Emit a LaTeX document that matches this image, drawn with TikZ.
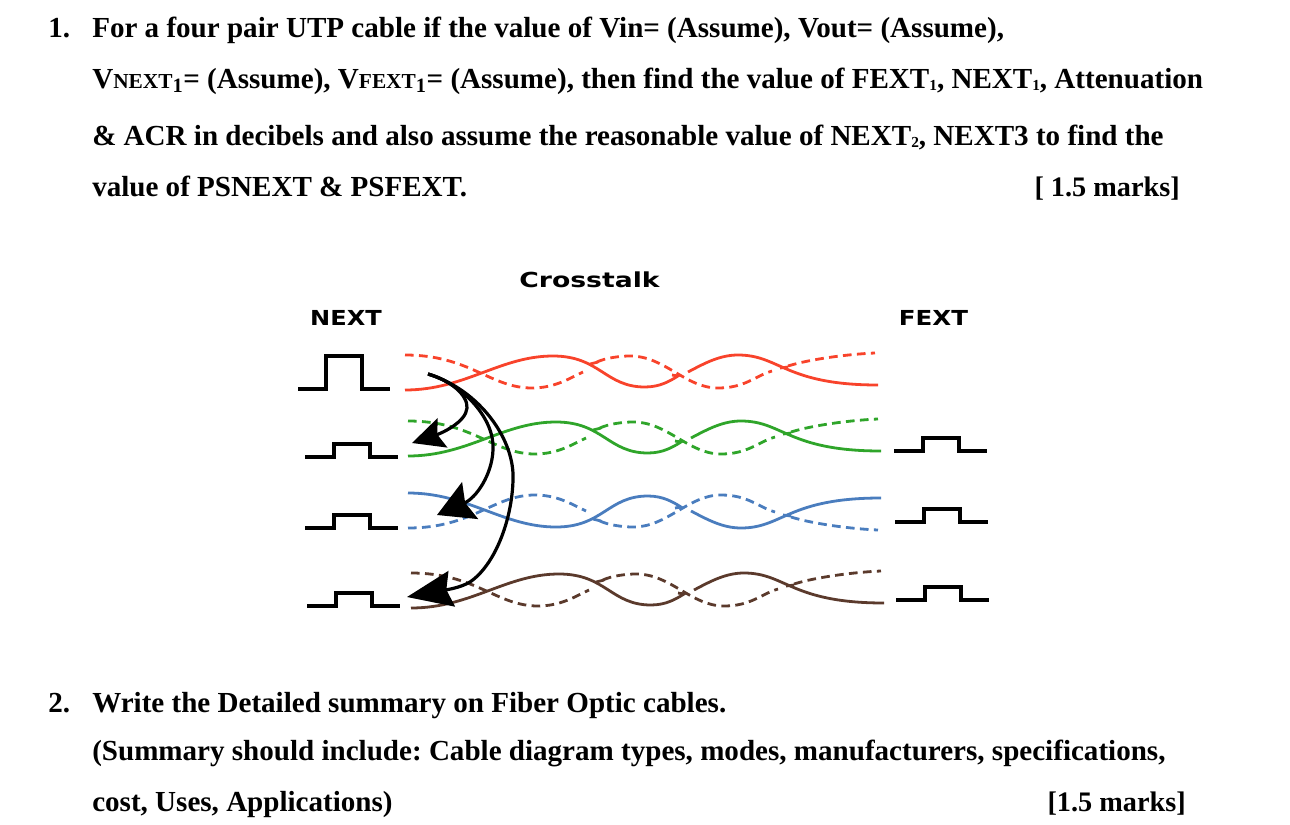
\documentclass[tikz,border=0pt]{standalone}
\usepackage{fontspec}
\setmainfont{Liberation Serif}
\newfontfamily\labelfont{DejaVu Sans}
\usetikzlibrary{arrows.meta}

\definecolor{wirered}{HTML}{F8432B}
\definecolor{wiregreen}{HTML}{2FA52A}
\definecolor{wireblue}{HTML}{4A7DBE}
\definecolor{wirebrown}{HTML}{5B3A2C}

\newcommand{\smallcap}[1]{{\fontsize{16}{18}\selectfont #1}}
\newcommand{\lowfig}[1]{\raisebox{-2pt}{\fontsize{11.5}{12}\selectfont #1}}

\tikzset{
    textline/.style={anchor=base west, inner sep=0pt, font=\fontsize{21.8}{24}\selectfont\bfseries},
    textright/.style={inner sep=0pt, anchor=base east, font=\fontsize{21.2}{24}\selectfont\bfseries},
    picturelabel/.style={inner sep=0pt, font=\fontsize{15.5}{18}\selectfont\labelfont\bfseries, transform shape},
    pulseline/.style={draw=black, line width=2.4pt, line join=miter},
    solidwire/.style={line width=2.1pt},
    dashwire/.style={line width=2.1pt, dash pattern=on 6.5pt off 4pt},
    crossarrow/.style n args={2}{line width=2.4pt, -{Stealth[length=#1, width=#2, inset=4pt]}}
}

\begin{document}
\frenchspacing
\begin{tikzpicture}[x=0.75pt, y=-0.75pt]
        \useasboundingbox (0,0) rectangle (1290,825);

        \node[textline] (num1) at (48,37) {1.};
        \node[textline] (line1) at (92,37) {For a four pair UTP cable if the value of Vin= (Assume), Vout= (Assume),};
        \node[textline] (line2) at (92,88) {V\smallcap{NEXT}\textsubscript{1}= (Assume), V\smallcap{FEXT}\textsubscript{1}= (Assume), then find the value of FEXT\lowfig{1}, NEXT\lowfig{1}, Attenuation};
        \node[textline] (line3) at (92,145) {\& ACR in decibels and also assume the reasonable value of NEXT\lowfig{2}, NEXT3 to find the};
        \node[textline] (line4) at (92,196) {value of PSNEXT \& PSFEXT.};
        \node[textright] (marks1) at (1180,196) {[ 1.5 marks]};

        \node[textline] (num2) at (48,712) {2.};
        \node[textline] (line5) at (92,712) {Write the Detailed summary on Fiber Optic cables.};
        \node[textline] (line6) at (92,760) {(Summary should include: Cable diagram types, modes, manufacturers, specifications,};
        \node[textline] (line7) at (92,811) {cost, Uses, Applications)};
        \node[textright] (marks2) at (1186,811) {[1.5 marks]};

        \node[picturelabel, xscale=1.29] (crosstalk) at (589.5,280) {Crosstalk};
        \node[picturelabel, xscale=1.165] (next) at (346,318) {NEXT};
        \node[picturelabel, xscale=1.186] (fext) at (933.5,318) {FEXT};

        % pulses
        \draw[pulseline] (298,389) -- ++(28,0) -- ++(0,-33) -- ++(36,0) -- ++(0,33) -- ++(28,0);
        \foreach \px/\py in {305/457, 305/528, 307/606, 894/451, 895/522, 896/600}
            \draw[pulseline] (\px,\py) -- ++(29,0) -- ++(0,-13) -- ++(36,0) -- ++(0,13) -- ++(28,0);

        % pairs
        \foreach \col/\dx/\cy/\fl in {wirered/0/371/1, wiregreen/3/437/1, wireblue/3/512/-1, wirebrown/6/589/1} {
            \begin{scope}[shift={(\dx,\cy)}, yscale=\fl, draw=\col]
                \draw[solidwire] (405,19) .. controls (465,19) and (500,-15) .. (553,-15)
                    .. controls (600,-15) and (605,16) .. (645,16)
                    .. controls (660,16) and (670,10) .. (678,5) -- (672,4);
                \draw[solidwire] (688,1) .. controls (705,-8) and (720,-16) .. (738,-16)
                    .. controls (780,-16) and (785,14) .. (878,14);
                \draw[solidwire] (590,-7) -- (598,-9);
                \draw[solidwire] (780,-3) -- (788,-4);
                \draw[dashwire] (405,-16) .. controls (470,-16) and (490,17) .. (532,17)
                    .. controls (555,17) and (570,7) .. (583,1);
                \draw[dashwire] (597,-9) .. controls (605,-13) and (620,-15) .. (630,-15)
                    .. controls (665,-15) and (685,17) .. (718,17)
                    .. controls (745,17) and (755,5) .. (772,0);
                \draw[dashwire] (788,-5) .. controls (810,-12) and (850,-17) .. (875,-18);
            \end{scope}
        }

        % arrows
        \coordinate (source) at (428,374);
        \coordinate (tipa) at (412,443);
        \coordinate (tipb) at (437,515);
        \coordinate (tipc) at (407,597);
        \draw[crossarrow={24pt}{23pt}] (source) .. controls (450,380) and (468,395) .. (467,408)
            .. controls (466,422) and (442,433) .. (tipa);
        \draw[crossarrow={27pt}{30pt}] (source) .. controls (465,385) and (495,420) .. (493,450)
            .. controls (492,475) and (476,498) .. (tipb);
        \draw[crossarrow={34pt}{27pt}] (source) .. controls (480,390) and (515,440) .. (513,480)
            .. controls (512,520) and (495,565) .. (470,582)
            .. controls (460,588) and (445,590) .. (tipc);
\end{tikzpicture}
\end{document}
